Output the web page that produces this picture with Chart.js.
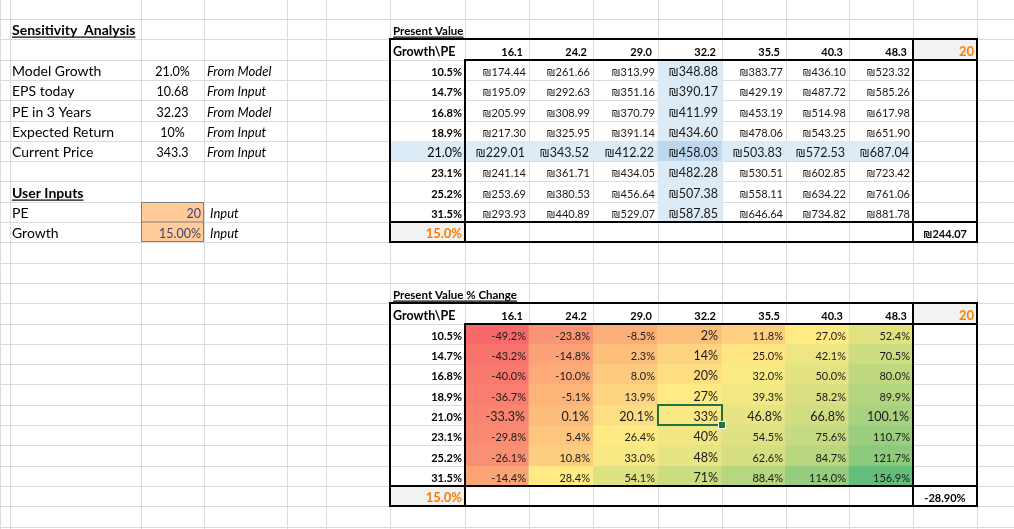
<!DOCTYPE html>
<html>
<head>
<meta charset="utf-8">
<title>Sensitivity Analysis</title>
<script src="https://cdn.jsdelivr.net/npm/chart.js@4.4.1/dist/chart.umd.min.js"></script>
<style>
  html, body { margin: 0; padding: 0; background: #fff; overflow: hidden; }
  canvas { display: block; }
</style>
</head>
<body>
<canvas id="sheet" width="1014" height="529"></canvas>
<script>
// --- DATA ---
const peMultiples = [16.1, 24.2, 29.0, 32.2, 35.5, 40.3, 48.3];
const growthRates = [10.5, 14.7, 16.8, 18.9, 21.0, 23.1, 25.2, 31.5];

// Present value, one row per growth rate
const presentValue = [
    [174.44, 261.66, 313.99, 348.88, 383.77, 436.10, 523.32],
    [195.09, 292.63, 351.16, 390.17, 429.19, 487.72, 585.26],
    [205.99, 308.99, 370.79, 411.99, 453.19, 514.98, 617.98],
    [217.30, 325.95, 391.14, 434.60, 478.06, 543.25, 651.90],
    [229.01, 343.52, 412.22, 458.03, 503.83, 572.53, 687.04],
    [241.14, 361.71, 434.05, 482.28, 530.51, 602.85, 723.42],
    [253.69, 380.53, 456.64, 507.38, 558.11, 634.22, 761.06],
    [293.93, 440.89, 529.07, 587.85, 646.64, 734.82, 881.78]
];

// % change vs current price (heatmap)
const pctChange = [
    [-49.2, -23.8, -8.5,  2, 11.8,  27.0,  52.4],
    [-43.2, -14.8,  2.3, 14, 25.0,  42.1,  70.5],
    [-40.0, -10.0,  8.0, 20, 32.0,  50.0,  80.0],
    [-36.7,  -5.1, 13.9, 27, 39.3,  58.2,  89.9],
    [-33.3,   0.1, 20.1, 33, 46.8,  66.8, 100.1],
    [-29.8,   5.4, 26.4, 40, 54.5,  75.6, 110.7],
    [-26.1,  10.8, 33.0, 48, 62.6,  84.7, 121.7],
    [-14.4,  28.4, 54.1, 71, 88.4, 114.0, 156.9]
];

const modelLabels  = ['Model Growth', 'EPS today', 'PE in 3 Years', 'Expected Return', 'Current Price'];
const modelValues  = ['21.0%', '10.68', '32.23', '10%', '343.3'];
const modelSources = ['From Model', 'From Input', 'From Model', 'From Input', 'From Input'];
const inputLabels  = ['PE', 'Growth'];
const inputValues  = ['20', '15.00%'];
const inputGrowthLabel = '15.0%';
const inputPELabel = '20';
const pvAtInputs = '\u20AA244.07';
const pctAtInputs = '-28.90%';

// which row / column match the model (highlighted)
const modelRow = growthRates.indexOf(21.0);
const modelCol = peMultiples.indexOf(32.2);

// --- SHEET LAYOUT ---
const COL_EDGES = [0, 10, 141, 204, 287, 326, 390, 465, 529, 593, 658, 722, 786, 849, 913, 977, 1041];
const rowEdge = r => Math.round(19 + (r - 1) * 20.3);   // top edge of sheet row r (r >= 1)
const colMid = c => (COL_EDGES[c] + COL_EDGES[c + 1]) / 2;
const FIRST_COL = 7;          // column H, first PE column
const TOP_T = 1, BOT_T = 14;  // title rows of the two tables

// Lato stands in for Calibri; digits run wider, so numbers get a smaller size
const FONT = 'Lato, "Noto Sans", sans-serif';
const TXT = '14px ' + FONT, TXT_B = 'bold 14px ' + FONT;
const ITAL = 'italic 13px ' + FONT;
const TITLE = 'bold 11.5px ' + FONT, HEAD = 'bold 12.5px ' + FONT;
const NUM_BIG = '12.5px ' + FONT, NUM = '11px ' + FONT, NUM_B = 'bold 11px ' + FONT;
const CALC = 'bold 13px ' + FONT;

// Excel-style 3 colour scale (min red, median yellow, max green)
const sorted = pctChange.flat().sort((a, b) => a - b);
const hMin = sorted[0], hMax = sorted[sorted.length - 1];
const hMid = (sorted[Math.floor((sorted.length - 1) / 2)] + sorted[Math.ceil((sorted.length - 1) / 2)]) / 2;
function mix(a, b, t) {
    return 'rgb(' + a.map((v, i) => Math.round(v + (b[i] - v) * t)).join(',') + ')';
}
function heatColor(v) {
    const red = [248, 105, 107], yel = [255, 235, 132], grn = [99, 190, 123];
    return v <= hMid ? mix(red, yel, (v - hMin) / (hMid - hMin)) : mix(yel, grn, (v - hMid) / (hMax - hMid));
}

// bar cells for the two tables
const heatCells = [];
pctChange.forEach((row, i) => row.forEach((v, j) => {
    heatCells.push({ x: colMid(FIRST_COL + j), y: [rowEdge(BOT_T + 2 + i), rowEdge(BOT_T + 3 + i)], v: v });
}));
const blueCells = [];
presentValue.forEach((row, i) => row.forEach((v, j) => {
    if (i === modelRow || j === modelCol) {
        blueCells.push({ x: colMid(FIRST_COL + j), y: [rowEdge(TOP_T + 2 + i), rowEdge(TOP_T + 3 + i)], both: i === modelRow && j === modelCol });
    }
}));

// --- drawing helpers for the plugin ---
function cellBox(chart, c0, c1, r0, r1) {
    const xs = chart.scales.x, ys = chart.scales.y;
    return {
        x0: xs.getPixelForValue(COL_EDGES[c0]), x1: xs.getPixelForValue(COL_EDGES[c1]),
        y0: ys.getPixelForValue(rowEdge(r0)), y1: ys.getPixelForValue(rowEdge(r1))
    };
}

function put(chart, col, row, text, o) {
    const ctx = chart.ctx;
    const b = cellBox(chart, col, col + 1, row, row + 1);
    ctx.font = o.font;
    ctx.fillStyle = o.color || '#000';
    ctx.textBaseline = 'alphabetic';
    let x;
    if (o.align === 'right') { ctx.textAlign = 'right'; x = b.x1 - (o.pad ?? 3); }
    else if (o.align === 'center') { ctx.textAlign = 'center'; x = (b.x0 + b.x1) / 2; }
    else { ctx.textAlign = 'left'; x = b.x0 + (o.pad ?? 2); }
    const y = b.y1 - 4;
    ctx.fillText(text, x, y);
    if (o.underline) {
        const w = ctx.measureText(text).width;
        ctx.fillRect(x, y + 1.5, w, 1.2);
    }
}

function fillCell(chart, col, row, color) {
    const b = cellBox(chart, col, col + 1, row, row + 1);
    chart.ctx.fillStyle = color;
    chart.ctx.fillRect(b.x0, b.y0, b.x1 - b.x0, b.y1 - b.y0);
}

function line(chart, c0, c1, r0, r1) {
    const b = cellBox(chart, c0, c1, r0, r1);
    const ctx = chart.ctx;
    ctx.beginPath();
    ctx.moveTo(b.x0, b.y0);
    ctx.lineTo(b.x1, b.y1);
    ctx.stroke();
}

function tableFrame(chart, t) {
    const ctx = chart.ctx;
    ctx.save();
    ctx.strokeStyle = '#000';
    ctx.lineWidth = 2;
    ctx.lineCap = 'square';
    const top = t + 1, bottom = t + 11;
    line(chart, 6, 15, top, top);
    line(chart, 6, 15, bottom, bottom);
    line(chart, 6, 6, top, bottom);
    line(chart, 15, 15, top, bottom);
    line(chart, 7, 7, top + 1, bottom);
    line(chart, 7, 15, top + 1, top + 1);
    line(chart, 14, 14, top, bottom);
    line(chart, 6, 15, bottom - 1, bottom - 1);
    ctx.restore();
}

const sheetPlugin = {
    id: 'sheet',
    beforeDatasetsDraw(chart) {
        // input cells (orange) and calculation cells (grey)
        fillCell(chart, 2, 10, '#FFCC99');
        fillCell(chart, 2, 11, '#FFCC99');
        [TOP_T, BOT_T].forEach(t => {
            fillCell(chart, 6, t + 10, '#F2F2F2');
            fillCell(chart, 14, t + 1, '#F2F2F2');
        });
        fillCell(chart, 6, TOP_T + 2 + modelRow, '#DDEBF7');
    },
    afterDatasetsDraw(chart) {
        const ctx = chart.ctx;
        ctx.save();

        // input cell borders
        ctx.strokeStyle = '#7F7F7F';
        ctx.lineWidth = 1;
        const ib = cellBox(chart, 2, 3, 10, 12);
        ctx.strokeRect(ib.x0 + 0.5, ib.y0 + 0.5, ib.x1 - ib.x0 - 1, ib.y1 - ib.y0 - 1);
        line(chart, 2, 3, 11, 11);

        tableFrame(chart, TOP_T);
        tableFrame(chart, BOT_T);

        // active cell marker
        const ab = cellBox(chart, FIRST_COL + modelCol, FIRST_COL + modelCol + 1, BOT_T + 2 + modelRow, BOT_T + 3 + modelRow);
        ctx.strokeStyle = '#217346';
        ctx.lineWidth = 2;
        ctx.strokeRect(ab.x0, ab.y0, ab.x1 - ab.x0, ab.y1 - ab.y0);
        ctx.fillStyle = '#fff';
        ctx.fillRect(ab.x1 - 4, ab.y1 - 4, 8, 8);
        ctx.fillStyle = '#217346';
        ctx.fillRect(ab.x1 - 3, ab.y1 - 3, 6, 6);

        // left block
        put(chart, 1, 1, 'Sensitivity  Analysis', { font: TXT_B, underline: true });
        modelLabels.forEach((s, i) => {
            put(chart, 1, 3 + i, s, { font: TXT });
            put(chart, 2, 3 + i, modelValues[i], { font: NUM_BIG, align: 'center' });
            put(chart, 3, 3 + i, modelSources[i], { font: ITAL, pad: 3 });
        });
        put(chart, 1, 9, 'User Inputs', { font: TXT_B, underline: true });
        inputLabels.forEach((s, i) => {
            put(chart, 1, 10 + i, s, { font: TXT });
            put(chart, 2, 10 + i, inputValues[i], { font: NUM_BIG, align: 'right', color: '#3F3F76' });
            put(chart, 3, 10 + i, 'Input', { font: ITAL, pad: 6 });
        });

        // tables
        [TOP_T, BOT_T].forEach(t => {
            const isPV = t === TOP_T;
            put(chart, 6, t, isPV ? 'Present Value' : 'Present Value % Change', { font: TITLE, underline: true, pad: 3 });
            put(chart, 6, t + 1, 'Growth\\PE', { font: HEAD, pad: 3 });
            peMultiples.forEach((pe, j) => {
                put(chart, FIRST_COL + j, t + 1, pe.toFixed(1), { font: NUM_B, align: 'right', pad: 6 });
            });
            put(chart, 14, t + 1, inputPELabel, { font: CALC, align: 'right', color: '#FA7D00' });
            growthRates.forEach((g, i) => {
                const big = isPV && i === modelRow;
                put(chart, 6, t + 2 + i, g.toFixed(1) + '%', { font: big ? NUM_BIG : NUM_B, align: 'right', pad: 3 });
                const vals = isPV ? presentValue[i] : pctChange[i];
                vals.forEach((v, j) => {
                    const hl = i === modelRow || j === modelCol;
                    const txt = isPV ? '\u20AA' + v.toFixed(2) : v.toFixed(j === modelCol ? 0 : 1) + '%';
                    put(chart, FIRST_COL + j, t + 2 + i, txt, { font: hl ? NUM_BIG : NUM, align: 'right', pad: hl ? 4 : 3, color: '#1a1a1a' });
                });
            });
            put(chart, 6, t + 10, inputGrowthLabel, { font: CALC, align: 'right', color: '#FA7D00', pad: 3 });
            put(chart, 14, t + 10, isPV ? pvAtInputs : pctAtInputs, { font: NUM_B, align: 'center' });
        });

        ctx.restore();
    }
};

// --- CHART ---
const xGridEdges = COL_EDGES.filter(v => v <= 1014);
const yGridEdges = [];
for (let r = 1; rowEdge(r) <= 529; r++) yGridEdges.push(rowEdge(r));

new Chart(document.getElementById('sheet').getContext('2d'), {
    type: 'bar',
    data: {
        datasets: [{
            label: 'Present Value % Change',
            data: heatCells,
            xAxisID: 'xc', yAxisID: 'y',
            backgroundColor: ctx => heatColor(ctx.raw.v),
            borderWidth: 0,
            grouped: false,
            categoryPercentage: 1.02, barPercentage: 1
        }, {
            label: 'Model row / column',
            data: blueCells,
            xAxisID: 'xc', yAxisID: 'y',
            backgroundColor: ctx => ctx.raw.both ? '#BDD7EE' : '#DDEBF7',
            borderWidth: 0,
            grouped: false,
            categoryPercentage: 1.02, barPercentage: 1
        }]
    },
    options: {
        responsive: false,
        animation: false,
        devicePixelRatio: 1,
        events: [],
        layout: { padding: 0, autoPadding: false },
        plugins: { legend: { display: false }, tooltip: { enabled: false } },
        scales: {
            x: {
                type: 'linear', min: 0, max: 1014, position: 'bottom', offset: false,
                afterBuildTicks: s => { s.ticks = xGridEdges.map(v => ({ value: v })); },
                ticks: { display: false },
                grid: { color: '#DADADA', drawTicks: false, offset: false },
                border: { display: false }
            },
            xc: { type: 'linear', min: 0, max: 1014, display: false, offset: false, grid: { offset: false } },
            y: {
                type: 'linear', min: 0, max: 529, reverse: true, offset: false,
                afterBuildTicks: s => { s.ticks = yGridEdges.map(v => ({ value: v })); },
                ticks: { display: false },
                grid: { color: '#DADADA', drawTicks: false },
                border: { display: false }
            }
        }
    },
    plugins: [sheetPlugin]
});
</script>
</body>
</html>
